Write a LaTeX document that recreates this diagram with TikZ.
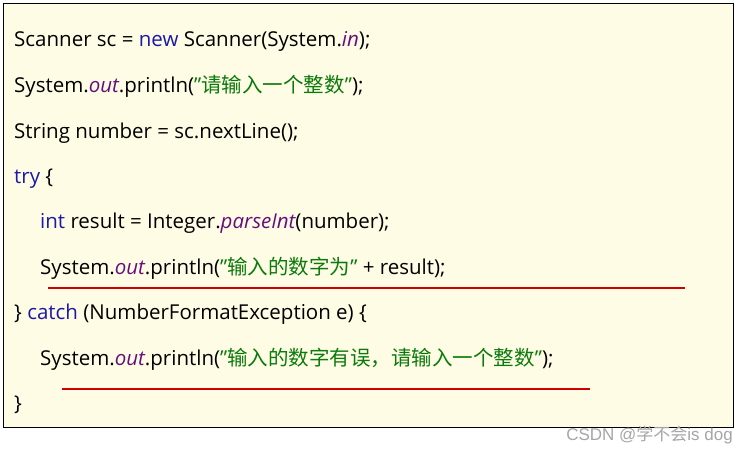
\documentclass[tikz,border=0pt]{standalone}
\usepackage{fontspec}
\setmainfont{Open Sans}
\newfontfamily\cjk{Noto Sans CJK SC}
\newfontfamily\wmfont{Liberation Sans}
\definecolor{kw}{HTML}{1A1AA6}
\definecolor{fld}{HTML}{660E7A}
\definecolor{str}{HTML}{0A7A0A}
\definecolor{bg}{HTML}{FFFCE6}
\newcommand{\K}[1]{\textcolor{kw}{#1}}
\newcommand{\F}[1]{\textcolor{fld}{\itshape #1}}
\newcommand{\St}[1]{\textcolor{str}{"{\cjk #1}"}}
\begin{document}
\begin{tikzpicture}[x=1pt,y=-1pt,
  code/.style={anchor=base west,inner sep=0pt,font=\fontsize{20.5}{20.5}\selectfont},
  redline/.style={draw=red!80!black,line width=1.2pt}]
\useasboundingbox (0,0) rectangle (746,451);
\fill[white] (0,0) rectangle (746,451);
\node[draw=black,fill=bg,line width=1pt,minimum width=730,minimum height=424,anchor=north west,inner sep=0pt] (box) at (3,3) {};
\node[code] (l1) at (14,46) {Scanner sc = \K{new} Scanner(System.\F{in});};
\node[code] (l2) at (14,92) {System.\F{out}.println(\St{请输入一个整数});};
\node[code] (l3) at (14,138) {String number = sc.nextLine();};
\node[code] (l4) at (14,183) {\K{try} \{};
\node[code] (l5) at (40,228) {\K{int} result = Integer.\F{parseInt}(number);};
\node[code] (l6) at (40,274) {System.\F{out}.println(\St{输入的数字为} + result);};
\node[code] (l7) at (14,319) {\} \K{catch} (NumberFormatException e) \{};
\node[code] (l8) at (40,365) {System.\F{out}.println(\St{输入的数字有误，请输入一个整数});};
\node[code] (l9) at (14,410) {\}};
\coordinate (r1a) at (48,288); \coordinate (r1b) at (685,288);
\coordinate (r2a) at (62,389); \coordinate (r2b) at (590,389);
\draw[redline] (r1a) -- (r1b);
\draw[redline] (r2a) -- (r2b);
\node[anchor=base east,inner sep=0pt,text=gray!70,font=\wmfont\fontsize{17}{17}\selectfont] (wm) at (733,440) {CSDN @{\cjk 学不会}is dog};
\end{tikzpicture}
\end{document}
